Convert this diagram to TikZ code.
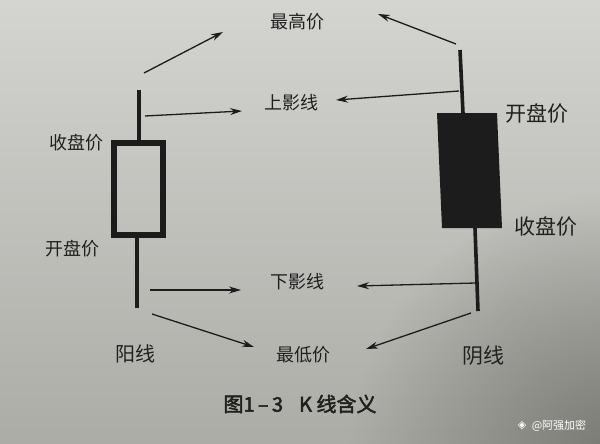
\documentclass[tikz,border=0pt]{standalone}
\usepackage{fontspec}
\newfontfamily\cjk{Noto Sans CJK SC}
\newfontfamily\cjkb[FakeBold=2.5]{Noto Sans CJK SC}
\newfontfamily\djv{DejaVu Sans}
\usetikzlibrary{arrows.meta,fadings}
\tikzfading[name=softc, inner color=transparent!0, outer color=transparent!100]
\definecolor{bgA}{RGB}{212,212,208}
\definecolor{bgM}{RGB}{200,200,195}
\definecolor{bgB}{RGB}{172,172,167}
\definecolor{bgD}{RGB}{110,110,105}
\definecolor{ink}{RGB}{28,28,28}
\definecolor{txt}{RGB}{32,32,32}
\tikzset{
  lbl/.style={text=txt,font=\cjk\fontsize{18}{18}\selectfont,inner sep=0pt},
  ptr/.style={draw=ink,line width=1.3pt,-{Stealth[length=12pt,width=7pt]}},
  wick/.style={draw=ink,line width=3.6pt},
}
\begin{document}
\begin{tikzpicture}[x=1pt,y=-1pt]
\useasboundingbox (0,0) rectangle (600,444);
\begin{scope}
\clip (0,0) rectangle (600,444);
\shade[top color=bgA,middle color=bgM,bottom color=bgB] (0,0) rectangle (600,444);
\fill[bgD,path fading=softc,fill opacity=0.8] (610,454) circle[radius=260pt];
\end{scope}
% left candle (yang)
\draw[wick] (139,90) -- (139,141);
\draw[draw=ink,line width=5.5pt] (114,143) rectangle (163,235);
\draw[wick] (137,237) -- (137,308);
% right candle (yin)
\draw[wick] (460,50) -- (463,113);
\fill[ink] (437,113) -- (497,113) -- (502,228) -- (442,228) -- cycle;
\draw[wick] (475,228) -- (478,311);
% labels
\node[lbl] (zg) at (297,22) {最高价};
\node[lbl] (sy) at (291,103) {上影线};
\node[lbl] (xy) at (297,282) {下影线};
\node[lbl] (zd) at (303,355) {最低价};
\node[lbl] (lsp) at (76,143) {收盘价};
\node[lbl] (lkp) at (72,249) {开盘价};
\node[lbl,font=\cjk\fontsize{21}{21}\selectfont] (rkp) at (537,113) {开盘价};
\node[lbl,font=\cjk\fontsize{21}{21}\selectfont] (rsp) at (546,226) {收盘价};
\node[lbl,font=\cjk\fontsize{20}{20}\selectfont] (yang) at (135,354) {阳线};
\node[lbl,font=\cjk\fontsize{21}{21}\selectfont] (yin) at (483,356) {阴线};
\node[lbl,font=\cjkb\fontsize{20}{20}\selectfont] (cap) at (300,404) {图1\,–\,3\hspace{16pt}K 线含义};
\node[text=white,font=\cjk\fontsize{11}{11}\selectfont,inner sep=0pt] (wm) at (559,426) {@阿强加密};
\node[text=white,font=\djv\fontsize{11}{11}\selectfont,inner sep=0pt] (wmi) at (522,426) {◈};
% pointer coordinates
\coordinate (a1) at (144,73);  \coordinate (a1e) at (223,32);
\coordinate (a2) at (145,116); \coordinate (a2e) at (242,111);
\coordinate (a3) at (150,290); \coordinate (a3e) at (241,290);
\coordinate (a4) at (152,314); \coordinate (a4e) at (254,347);
\coordinate (b1) at (456,44);  \coordinate (b1e) at (378,14);
\coordinate (b2) at (459,91);  \coordinate (b2e) at (336,100);
\coordinate (b3) at (476,283); \coordinate (b3e) at (357,286);
\coordinate (b4) at (471,313); \coordinate (b4e) at (366,349);
\draw[ptr] (a1) -- (a1e);
\draw[ptr] (a2) -- (a2e);
\draw[ptr] (a3) -- (a3e);
\draw[ptr] (a4) -- (a4e);
\draw[ptr] (b1) -- (b1e);
\draw[ptr] (b2) -- (b2e);
\draw[ptr] (b3) -- (b3e);
\draw[ptr] (b4) -- (b4e);
\end{tikzpicture}
\end{document}
